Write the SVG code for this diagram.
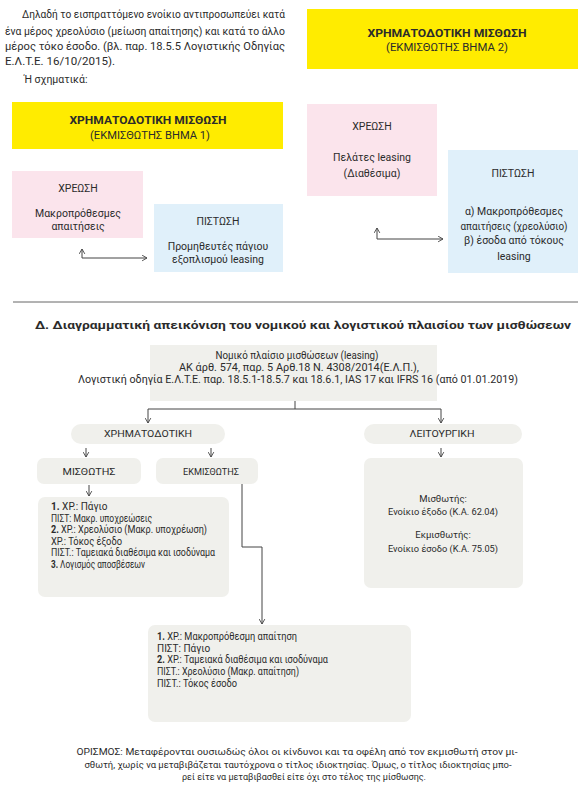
<svg xmlns="http://www.w3.org/2000/svg" width="586" height="797" viewBox="0 0 586 797">
<style>
text{font-family:Roboto,"Noto Sans","DejaVu Sans",sans-serif;fill:#2b2b2b}
.p{font-size:10.5px}
.t{font-size:11.5px}
.m{font-size:10.5px}
.s{font-size:9.5px}
.e{font-size:10px}
.c{text-anchor:middle}
.b{font-weight:bold}
.yel{fill:#FFEC00}
.pink{fill:#FBE4EC}
.blue{fill:#E0F0FA}
.gray{fill:#F0F0EC}
.ln{fill:none;stroke:#444;stroke-width:1}
</style>
<defs>
<marker id="ah" viewBox="0 0 10 10" refX="9" refY="5" markerWidth="7" markerHeight="7" markerUnits="userSpaceOnUse" orient="auto">
<path d="M2,1 L9,5 L2,9" fill="none" stroke="#444" stroke-width="1.3"/>
</marker>
</defs>
<rect width="586" height="797" fill="#fff"/>
<g id="intro-text">
<text class="p" x="22" y="18" textLength="263" lengthAdjust="spacingAndGlyphs">Δηλαδή το εισπραττόμενο ενοίκιο αντιπροσωπεύει κατά</text>
<text class="p" x="5" y="35" textLength="280" lengthAdjust="spacingAndGlyphs">ένα μέρος χρεολύσιο (μείωση απαίτησης) και κατά το άλλο</text>
<text class="p" x="5" y="50" textLength="280" lengthAdjust="spacingAndGlyphs">μέρος τόκο έσοδο. (βλ. παρ. 18.5.5 Λογιστικής Οδηγίας</text>
<text class="p" x="5" y="65" textLength="110" lengthAdjust="spacingAndGlyphs">Ε.Λ.Τ.Ε. 16/10/2015).</text>
<text class="p" x="24" y="83">Ή σχηματικά:</text>
</g>
<g id="step1-title">
<rect class="yel" x="12" y="102" width="271" height="47"/>
<text class="t c b" x="148" y="124" textLength="157" lengthAdjust="spacingAndGlyphs">ΧΡΗΜΑΤΟΔΟΤΙΚΗ ΜΙΣΘΩΣΗ</text>
<text class="t c" x="150" y="139" textLength="120" lengthAdjust="spacingAndGlyphs">(ΕΚΜΙΣΘΩΤΗΣ ΒΗΜΑ 1)</text>
</g>
<g id="step1-debit">
<rect class="pink" x="12" y="171" width="131" height="67"/>
<text class="m c" x="78" y="192">ΧΡΕΩΣΗ</text>
<text class="m c" x="78" y="217">Μακροπρόθεσμες</text>
<text class="m c" x="78" y="230">απαιτήσεις</text>
</g>
<g id="step1-credit">
<rect class="blue" x="154" y="204" width="129" height="68"/>
<text class="m c" x="218" y="225">ΠΙΣΤΩΣΗ</text>
<text class="m c" x="218" y="250">Προμηθευτές πάγιου</text>
<text class="m c" x="218" y="263">εξοπλισμού leasing</text>
</g>
<g id="step2-title">
<rect class="yel" x="307" y="9" width="271" height="60"/>
<text class="t c b" x="447" y="37" textLength="159" lengthAdjust="spacingAndGlyphs">ΧΡΗΜΑΤΟΔΟΤΙΚΗ ΜΙΣΘΩΣΗ</text>
<text class="t c" x="447" y="51" textLength="122" lengthAdjust="spacingAndGlyphs">(ΕΚΜΙΣΘΩΤΗΣ ΒΗΜΑ 2)</text>
</g>
<g id="step2-debit">
<rect class="pink" x="307" y="104" width="130" height="92"/>
<text class="m c" x="372" y="130">ΧΡΕΩΣΗ</text>
<text class="m c" x="372" y="161">Πελάτες leasing</text>
<text class="m c" x="372" y="177">(Διαθέσιμα)</text>
</g>
<g id="step2-credit">
<rect class="blue" x="448" y="150" width="130" height="123"/>
<text class="m c" x="513" y="177">ΠΙΣΤΩΣΗ</text>
<text class="m c" x="514" y="215">α) Μακροπρόθεσμες</text>
<text class="m c" x="514" y="230" textLength="107" lengthAdjust="spacingAndGlyphs">απαιτήσεις (χρεολύσιο)</text>
<text class="m c" x="514" y="244">β) έσοδα από τόκους</text>
<text class="m c" x="514" y="260">leasing</text>
</g>
<g id="separator">
<line x1="13" y1="302" x2="578" y2="302" stroke="#666" stroke-width="1"/>
<text class="b" x="35" y="329" font-size="11.5" textLength="536" lengthAdjust="spacingAndGlyphs">Δ.  Διαγραμματική απεικόνιση του νομικού και λογιστικού πλαισίου των μισθώσεων</text>
</g>
<g id="legal">
<rect class="gray" x="150" y="345" width="287" height="56"/>
<text class="m c" x="297" y="359" textLength="163" lengthAdjust="spacingAndGlyphs">Νομικό πλαίσιο μισθώσεων (leasing)</text>
<text class="m c" x="299" y="371" textLength="240" lengthAdjust="spacingAndGlyphs">ΑΚ άρθ. 574, παρ. 5 Αρθ.18 Ν. 4308/2014(Ε.Λ.Π.),</text>
<text class="m c" x="298" y="383" textLength="440" lengthAdjust="spacingAndGlyphs">Λογιστική οδηγία Ε.Λ.Τ.Ε. παρ. 18.5.1-18.5.7 και 18.6.1, IAS 17 και  IFRS 16 (από 01.01.2019)</text>
</g>
<g id="finance">
<rect class="gray" x="71" y="424" width="154" height="20" rx="10"/>
<text class="s c" x="148" y="437" textLength="88" lengthAdjust="spacingAndGlyphs">ΧΡΗΜΑΤΟΔΟΤΙΚΗ</text>
</g>
<g id="operating">
<rect class="gray" x="364" y="424" width="158" height="20" rx="10"/>
<text class="s c" x="442" y="437" textLength="65" lengthAdjust="spacingAndGlyphs">ΛΕΙΤΟΥΡΓΙΚΗ</text>
</g>
<g id="lessee">
<rect class="gray" x="37" y="458" width="104" height="26" rx="7"/>
<text class="s c" x="89" y="475" textLength="53" lengthAdjust="spacingAndGlyphs">ΜΙΣΘΩΤΗΣ</text>
</g>
<g id="lessor">
<rect class="gray" x="156" y="458" width="102" height="26" rx="7"/>
<text class="s c" x="211" y="475" textLength="56" lengthAdjust="spacingAndGlyphs">ΕΚΜΙΣΘΩΤΗΣ</text>
</g>
<g id="lessee-entries">
<rect class="gray" x="38" y="497" width="191" height="100" rx="7"/>
<text class="e" x="51" y="510"><tspan class="b">1.</tspan> ΧΡ.: Πάγιο</text>
<text class="e" x="51" y="522" textLength="101" lengthAdjust="spacingAndGlyphs">ΠΙΣΤ: Μακρ. υποχρεώσεις</text>
<text class="e" x="51" y="533" textLength="156" lengthAdjust="spacingAndGlyphs"><tspan class="b">2.</tspan> ΧΡ.: Χρεολύσιο (Μακρ. υποχρέωση)</text>
<text class="e" x="51" y="545" textLength="71" lengthAdjust="spacingAndGlyphs">ΧΡ.: Τόκος έξοδο</text>
<text class="e" x="51" y="556" textLength="164" lengthAdjust="spacingAndGlyphs">ΠΙΣΤ.: Ταμειακά διαθέσιμα και ισοδύναμα</text>
<text class="e" x="51" y="568" textLength="94" lengthAdjust="spacingAndGlyphs"><tspan class="b">3.</tspan> Λογισμός αποσβέσεων</text>
</g>
<g id="operating-entries">
<rect class="gray" x="364" y="458" width="159" height="130" rx="7"/>
<text class="s c" x="443" y="502">Μισθωτής:</text>
<text class="s c" x="443" y="515" textLength="110" lengthAdjust="spacingAndGlyphs">Ενοίκιο έξοδο (Κ.Α. 62.04)</text>
<text class="s c" x="443" y="538">Εκμισθωτής:</text>
<text class="s c" x="443" y="552" textLength="110" lengthAdjust="spacingAndGlyphs">Ενοίκιο έσοδο (Κ.Α. 75.05)</text>
</g>
<g id="lessor-entries">
<rect class="gray" x="148" y="625" width="263" height="97" rx="7"/>
<text class="e" x="157" y="640" textLength="140" lengthAdjust="spacingAndGlyphs"><tspan class="b">1.</tspan> ΧΡ.: Μακροπρόθεσμη απαίτηση</text>
<text class="e" x="157" y="652">ΠΙΣΤ: Πάγιο</text>
<text class="e" x="157" y="663" textLength="171" lengthAdjust="spacingAndGlyphs"><tspan class="b">2.</tspan> ΧΡ.: Ταμειακά διαθέσιμα και ισοδύναμα</text>
<text class="e" x="157" y="675" textLength="142" lengthAdjust="spacingAndGlyphs">ΠΙΣΤ.: Χρεολύσιο (Μακρ. απαίτηση)</text>
<text class="e" x="157" y="687" textLength="80" lengthAdjust="spacingAndGlyphs">ΠΙΣΤ.: Τόκος έσοδο</text>
</g>
<g id="definition">
<text class="s c" x="297" y="755" textLength="441" lengthAdjust="spacingAndGlyphs">ΟΡΙΣΜΟΣ: Μεταφέρονται ουσιωδώς όλοι οι κίνδυνοι και τα οφέλη από τον εκμισθωτή  στον μι-</text>
<text class="s c" x="298" y="768" textLength="427" lengthAdjust="spacingAndGlyphs">σθωτή, χωρίς να μεταβιβάζεται ταυτόχρονα ο τίτλος ιδιοκτησίας. Όμως, ο τίτλος ιδιοκτησίας μπο-</text>
<text class="s c" x="304" y="780" textLength="244" lengthAdjust="spacingAndGlyphs">ρεί είτε να μεταβιβασθεί  είτε όχι στο τέλος της μίσθωσης.</text>
</g>
<g id="connectors">
<path class="ln" d="M82,258 V249" marker-end="url(#ah)"/>
<path class="ln" d="M82,258 H147" marker-end="url(#ah)"/>
<path class="ln" d="M377,239 V228" marker-end="url(#ah)"/>
<path class="ln" d="M377,239 H443" marker-end="url(#ah)"/>
<path class="ln" d="M295,401 V409 M148,409 H441"/>
<path class="ln" d="M148,409 V423" marker-end="url(#ah)"/>
<path class="ln" d="M441,409 V423" marker-end="url(#ah)"/>
<path class="ln" d="M86,448 V457" marker-end="url(#ah)"/>
<path class="ln" d="M211,448 V457" marker-end="url(#ah)"/>
<path class="ln" d="M441,448 V457" marker-end="url(#ah)"/>
<path class="ln" d="M89,485 V496" marker-end="url(#ah)"/>
<path class="ln" d="M242,484 V547 H262 V624" marker-end="url(#ah)"/>
</g>
</svg>
